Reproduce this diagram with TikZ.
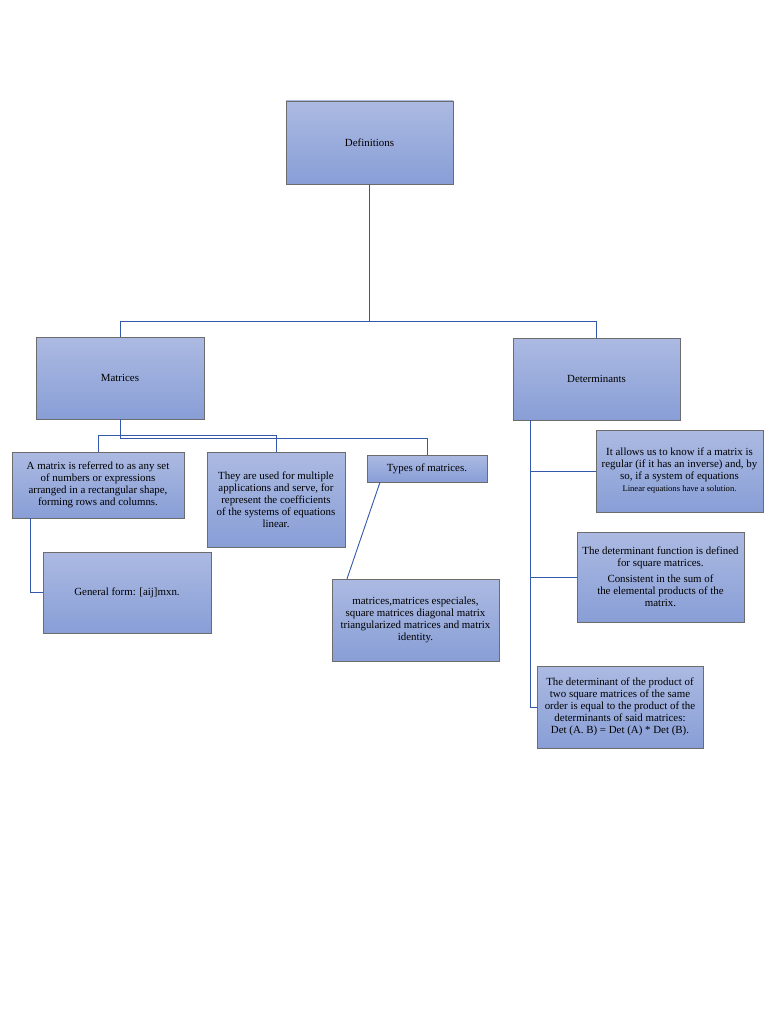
\documentclass[tikz,border=0pt]{standalone}
\usepackage{fontspec}
\setmainfont{Liberation Serif}
\tikzset{
  mapbox/.style={draw=gray!85!black, top color=boxtop, bottom color=boxbot,
    inner sep=0pt, align=center, font=\fontsize{10.9}{12}\selectfont},
  link/.style={draw=linkblue, line width=0.9pt}
}
\definecolor{boxtop}{RGB}{172,186,226}
\definecolor{boxbot}{RGB}{136,158,214}
\definecolor{linkblue}{RGB}{52,88,170}
\begin{document}
\begin{tikzpicture}[x=1pt,y=-1pt]
        \useasboundingbox[fill=white] (0,0) rectangle (768,1024);

        % Draw top boxes
        \node[mapbox, minimum width=167, minimum height=83] (def) at (369.5,142.5) {Definitions};
        \node[mapbox, minimum width=168, minimum height=82] (mat) at (120,378) {Matrices};
        \node[mapbox, minimum width=167, minimum height=82] (det) at (596.5,379) {Determinants};

        % Draw matrix boxes
        \node[mapbox, minimum width=172, minimum height=66] (amat) at (98,485) {A matrix is referred to as any set\\
          of numbers or expressions\\arranged in a rectangular shape,\\forming rows and columns.};
        \node[mapbox, minimum width=138, minimum height=95] (used) at (276,499.5) {They are used for multiple\\
          applications and serve, for\\represent the coefficients\\of the systems of equations\\linear.};
        \node[mapbox, minimum width=120, minimum height=27] (types) at (427,468.5) {Types of matrices.};
        \node[mapbox, minimum width=168, minimum height=81] (gen) at (127,592.5) {General form: [aij]mxn.};
        \node[mapbox, minimum width=167, minimum height=82] (list) at (415.5,620) {matrices,matrices especiales,\\
          square matrices diagonal matrix\\triangularized matrices and matrix\\identity.};

        % Draw determinant boxes
        \node[mapbox, minimum width=167, minimum height=82] (allow) at (679.5,471) {It allows us to know if a matrix is\\
          regular (if it has an inverse) and, by\\so, if a system of equations\\
          {\fontsize{8.6}{10}\selectfont Linear equations have a solution.}};
        \node[mapbox, minimum width=167, minimum height=90] (func) at (660.5,577) {The determinant function is defined\\
          for square matrices.\\[4pt]Consistent in the sum of\\the elemental products of the\\matrix.};
        \node[mapbox, minimum width=166, minimum height=82] (prod) at (620,707) {The determinant of the product of\\
          two square matrices of the same\\order is equal to the product of the\\determinants of said matrices:\\
          Det (A. B) = Det (A) * Det (B).};

        % Draw top connectors
        \draw[link, line width=1.6pt] (def.south) -- (def.south |- 0,321);
        \draw[link] (def.south |- 0,321) -| (mat.north);
        \draw[link] (def.south |- 0,321) -| (det.north);

        % Draw matrix connectors
        \draw[link] (mat.south) -- (mat.south |- 0,438) -| (types.north);
        \draw[link] (amat.north) -- (amat.north |- 0,435) -| (used.north);
        \draw[link] (amat.south -| 30,0) |- (gen.west);
        \draw[link] (types.south -| 380,0) -- (list.north -| 347,0);

        % Draw determinant connectors
        \coordinate (dspine) at (530,707);
        \draw[link] (dspine |- det.south) -- (dspine |- prod.west) -- (prod.west);
        \draw[link] (dspine |- allow.west) -- (allow.west);
        \draw[link] (dspine |- func.west) -- (func.west);
    \end{tikzpicture}
\end{document}
